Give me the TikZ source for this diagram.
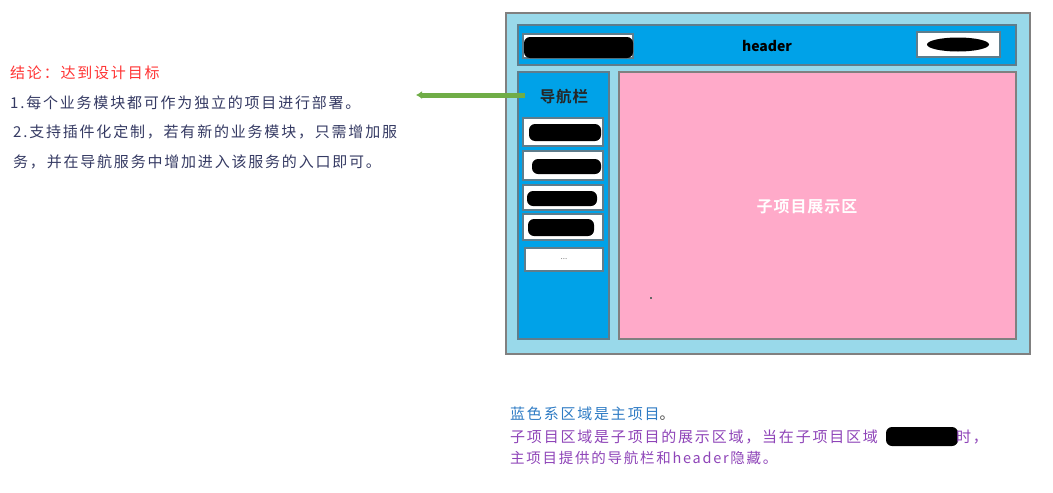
\documentclass[tikz,border=0pt]{standalone}
\usepackage{fontspec}
\setmainfont{Noto Sans CJK SC}
\newfontfamily\cjk[LetterSpace=12]{Noto Sans CJK SC}
\newfontfamily\cjkb[LetterSpace=6]{Noto Sans CJK SC Bold}
\usetikzlibrary{arrows.meta}
\definecolor{outerblue}{HTML}{99D9EA}
\definecolor{mainblue}{HTML}{00A2E8}
\definecolor{pinkarea}{HTML}{FFAAC9}
\definecolor{bordergray}{HTML}{5F7D8C}
\definecolor{titlered}{HTML}{FF3333}
\definecolor{bodytext}{HTML}{353A63}
\definecolor{notes}{HTML}{2E7BC4}
\definecolor{notepurple}{HTML}{8E44B8}
\definecolor{arrowgreen}{HTML}{70AD47}
\tikzset{
  panel/.style={draw=bordergray, line width=1.5pt},
  whitebox/.style={draw=bordergray, line width=1.5pt, fill=white},
  blob/.style={fill=black, rounded corners=6pt},
  txt/.style={anchor=west, inner sep=0pt, font=\fontsize{15}{15}\cjk},
  note/.style={anchor=west, inner sep=0pt, font=\fontsize{15}{15}\cjk},
}
\begin{document}
\begin{tikzpicture}[x=1pt,y=-1pt]
\useasboundingbox (0,0) rectangle (1053,493);
% outer area
\draw[panel, draw=gray, fill=outerblue] (506,13) rectangle (1030,354);
% header
\draw[panel, fill=mainblue] (518,25) rectangle (1016,65);
\node[whitebox, minimum width=110pt, minimum height=24pt, inner sep=0pt] (hl) at (578,46) {};
\fill[blob] (524,37) rectangle (633,58);
\node[whitebox, minimum width=83pt, minimum height=25pt, inner sep=0pt] (hr) at (958.5,44.5) {};
\fill[black] (958,44.5) ellipse [x radius=31pt, y radius=7pt];
\node[inner sep=0pt, font=\fontsize{14}{14}\bfseries\selectfont] (header) at (767,46) {header};
% navigation column
\draw[panel, fill=mainblue] (518,72) rectangle (609,339);
\node[inner sep=0pt, font=\fontsize{15.5}{15.5}\cjkb, text=black!85] (nav) at (564,97) {导航栏};
\node[whitebox, minimum width=80pt, minimum height=28pt, inner sep=0pt] (n1) at (563,132) {};
\fill[blob] (529,124) rectangle (601,141);
\node[whitebox, minimum width=80pt, minimum height=29pt, inner sep=0pt] (n2) at (563,165.5) {};
\fill[blob] (532,159) rectangle (601,174);
\node[whitebox, minimum width=80pt, minimum height=25pt, inner sep=0pt] (n3) at (563,197.5) {};
\fill[blob] (527,191) rectangle (597,206);
\node[whitebox, minimum width=80pt, minimum height=26pt, inner sep=0pt] (n4) at (563,227) {};
\fill[blob] (528,219) rectangle (594,236);
\node[whitebox, minimum width=78pt, minimum height=23pt, inner sep=0pt, font=\fontsize{8}{8}\selectfont, text=gray] (n5) at (564,259.5) {...};
% sub project area
\draw[panel, draw=gray, fill=pinkarea] (619,72) rectangle (1016,339);
\node[inner sep=0pt, font=\fontsize{16}{16}\cjkb, text=white] (sub) at (807,207) {子项目展示区};
\fill[black!60] (649.5,296.5) rectangle (651.5,298.5);
% green arrow
\coordinate (arrowstart) at (525,95);
\coordinate (arrowend) at (416,95);
\draw[arrowgreen, line width=5pt, -{Latex[length=6pt,width=8pt]}] (arrowstart) -- (arrowend);
% left text
\node[txt, text=titlered] (t0) at (10,73) {结论：达到设计目标};
\node[txt, text=bodytext] (t1) at (10,103) {1.每个业务模块都可作为独立的项目进行部署。};
\node[txt, text=bodytext] (t2) at (13,132) {2.支持插件化定制，若有新的业务模块，只需增加服};
\node[txt, text=bodytext] (t3) at (13,162) {务，并在导航服务中增加进入该服务的入口即可。};
% bottom notes
\node[note, text=notes] (b1) at (510,414) {蓝色系区域是主项目\textcolor{black!70}{。}};
\node[note, text=notepurple] (b2) at (510,437) {子项目区域是子项目的展示区域，当在子项目区域};
\fill[blob] (886,427) rectangle (958,446);
\node[note, text=notepurple] (b2b) at (956,437) {时，};
\node[note, text=notepurple, font=\fontsize{14.5}{14.5}\cjk] (b3) at (510,458) {主项目提供的导航栏和header隐藏。};
\end{tikzpicture}
\end{document}
